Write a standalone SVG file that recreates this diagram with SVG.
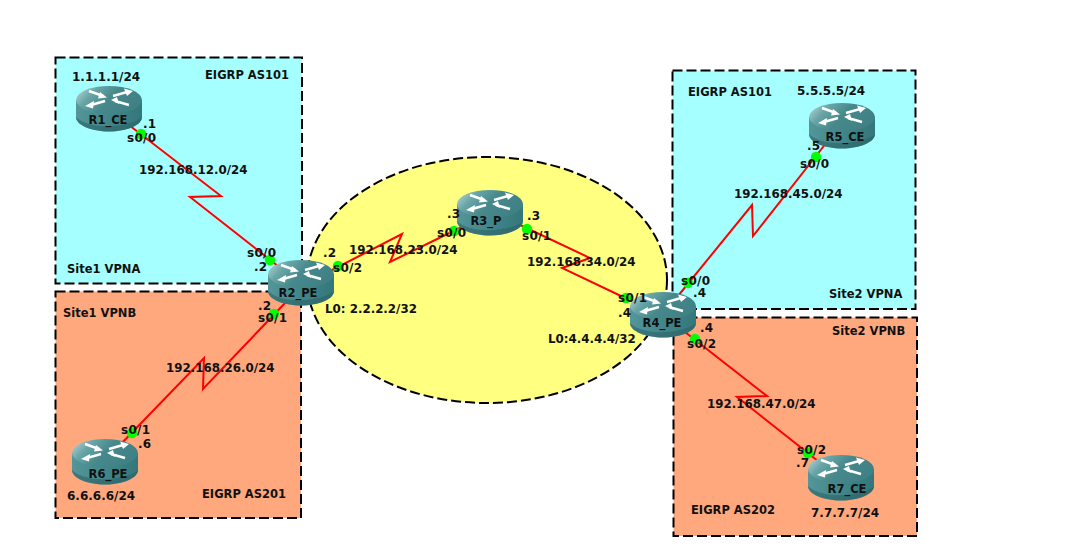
<svg xmlns="http://www.w3.org/2000/svg" width="1071" height="557" viewBox="0 0 1071 557">
<style>
text{font-family:"DejaVu Sans",Verdana,sans-serif;font-weight:bold;font-size:11.5px;fill:#111}
text.n{font-size:11.85px}
text.i{font-size:12px;letter-spacing:.3px}
text.h{font-size:12px}
.zone{stroke:#000;stroke-width:2;stroke-dasharray:10 4}
.a{fill:#a6ffff}.b{fill:#ffa87d}.c{fill:#ffff80}
.link{fill:none;stroke:#f00;stroke-width:2}
.dot{fill:#00ff00;stroke:none}
.rn{text-anchor:middle}
</style>
<defs>
<linearGradient id="side" x1="0" x2="1" y1="0" y2="0"><stop offset="0" stop-color="#54969a"/><stop offset=".5" stop-color="#40868a"/><stop offset="1" stop-color="#34777b"/></linearGradient>
<linearGradient id="top" x1="0" x2="1" y1="0" y2="0.4"><stop offset="0" stop-color="#c4dcdc"/><stop offset=".3" stop-color="#69a5a7"/><stop offset=".6" stop-color="#46888b"/><stop offset="1" stop-color="#3f8184"/></linearGradient>
<g id="router">
<path d="M-33-9V8C-33 16-18 22.500 0 22.500S33 16 33 8V-9Z" fill="url(#side)"/>
<path d="M-33 8C-33 16-18 22.500 0 22.500S33 16 33 8C25 17-18 23-33 8Z" fill="#2a5f62" opacity=".55"/>
<ellipse cx="0" cy="-9" rx="33" ry="14" fill="url(#top)"/>
<g fill="#fff" stroke="none">
<path d="M-20-18L-6-13" stroke="#fff" stroke-width="2.500"/><path d="M-9-17L-2-11.500-11-10.500Z"/>
<path d="M4-13L18-17" stroke="#fff" stroke-width="2.500"/><path d="M15-20.500L24-18 18-13Z"/>
<path d="M-4-8L-18-4" stroke="#fff" stroke-width="2.500"/><path d="M-15-8L-24-3-16-.5Z"/>
<path d="M20-4L6-8" stroke="#fff" stroke-width="2.500"/><path d="M8-12L2-9 10-5Z"/>
</g>
</g>
</defs>
<rect width="1071" height="557" fill="#fff"/>
<g id="zones">
<rect id="site1-vpna" class="zone a" x="55.500" y="57.500" width="246.500" height="226"/>
<rect id="site1-vpnb" class="zone b" x="55.500" y="291.500" width="245.500" height="226.500"/>
<rect id="site2-vpna" class="zone a" x="672.500" y="70.500" width="243" height="238.500"/>
<rect id="site2-vpnb" class="zone b" x="673.500" y="317.500" width="243.500" height="218.500"/>
<ellipse id="core" class="zone c" cx="487" cy="280" rx="180" ry="123"/>
</g>
<g id="connectors">
<polyline class="link" points="125,122 221,196 190,197 283,270"/>
<polyline class="link" points="332,270 402,234 390,262 470,223"/>
<polyline class="link" points="518,224 590,258 562,268 642,306"/>
<polyline class="link" points="118,447 204,358 203,389 286,302"/>
<polyline class="link" points="678,296 752,205 753,236 827,142"/>
<polyline class="link" points="685,332 767,396 737,397 823,465"/>
<circle class="dot" cx="141" cy="134" r="5.200"/><circle class="dot" cx="270" cy="260" r="5.200"/>
<circle class="dot" cx="338" cy="266" r="5.200"/><circle class="dot" cx="454" cy="231" r="5.200"/>
<circle class="dot" cx="527" cy="229" r="5.200"/><circle class="dot" cx="626" cy="298" r="5.200"/>
<circle class="dot" cx="274" cy="314" r="5.200"/><circle class="dot" cx="132" cy="433" r="5.200"/>
<circle class="dot" cx="688" cy="283" r="5.200"/><circle class="dot" cx="816" cy="157" r="5.200"/>
<circle class="dot" cx="695" cy="339" r="5.200"/><circle class="dot" cx="808" cy="453" r="5.200"/>
</g>
<g id="R1_CE"><use href="#router" x="109" y="109"/><text class="rn" x="108" y="124">R1_CE</text></g>
<g id="R2_PE"><use href="#router" x="301" y="283"/><text class="rn" x="298" y="297">R2_PE</text></g>
<g id="R3_P"><use href="#router" x="490" y="213"/><text class="rn" x="486" y="225">R3_P</text></g>
<g id="R4_PE"><use href="#router" x="663" y="315"/><text class="rn" x="662" y="327">R4_PE</text></g>
<g id="R5_CE"><use href="#router" x="842" y="126"/><text class="rn" x="845" y="141">R5_CE</text></g>
<g id="R6_PE"><use href="#router" x="105" y="462"/><text class="rn" x="108" y="478">R6_PE</text></g>
<g id="R7_CE"><use href="#router" x="841" y="478"/><text class="rn" x="847" y="493">R7_CE</text></g>
<g id="labels">
<text class="h" x="72" y="81">1.1.1.1/24</text><text x="205" y="79">EIGRP AS101</text>
<text class="i" x="143" y="128">.1</text><text class="i" x="127" y="142">s0/0</text>
<text class="n" x="139" y="174">192.168.12.0/24</text>
<text x="67" y="273">Site1 VPNA</text>
<text class="i" x="247" y="257">s0/0</text><text class="i" x="254" y="271">.2</text>
<text class="i" x="323" y="257">.2</text><text class="i" x="333" y="272">s0/2</text>
<text class="n" x="349" y="254">192.168.23.0/24</text>
<text class="i" x="447" y="218">.3</text><text class="i" x="437" y="237">s0/0</text>
<text class="i" x="527" y="220">.3</text><text class="i" x="522" y="240">s0/1</text>
<text class="n" x="527" y="266">192.168.34.0/24</text>
<text class="i" x="618" y="302">s0/1</text><text class="i" x="618" y="317">.4</text>
<text class="i" x="681" y="285">s0/0</text><text class="i" x="693" y="297">.4</text>
<text class="n" x="325" y="313">L0: 2.2.2.2/32</text>
<text class="n" x="548" y="343">L0:4.4.4.4/32</text>
<text class="i" x="258" y="310">.2</text><text class="i" x="258" y="322">s0/1</text>
<text x="63" y="317">Site1 VPNB</text>
<text class="n" x="166" y="372">192.168.26.0/24</text>
<text class="i" x="121" y="434">s0/1</text><text class="i" x="138" y="448">.6</text>
<text class="h" x="67" y="500">6.6.6.6/24</text><text x="202" y="498">EIGRP AS201</text>
<text x="688" y="96">EIGRP AS101</text><text class="h" x="797" y="95">5.5.5.5/24</text>
<text class="i" x="807" y="150">.5</text><text class="i" x="800" y="168">s0/0</text>
<text class="n" x="734" y="198">192.168.45.0/24</text>
<text x="829" y="298">Site2 VPNA</text>
<text x="832" y="335">Site2 VPNB</text>
<text class="i" x="700" y="332">.4</text><text class="i" x="687" y="348">s0/2</text>
<text class="n" x="707" y="408">192.168.47.0/24</text>
<text class="i" x="797" y="454">s0/2</text><text class="i" x="796" y="467">.7</text>
<text x="691" y="514">EIGRP AS202</text><text class="h" x="811" y="517">7.7.7.7/24</text>
</g>
</svg>
